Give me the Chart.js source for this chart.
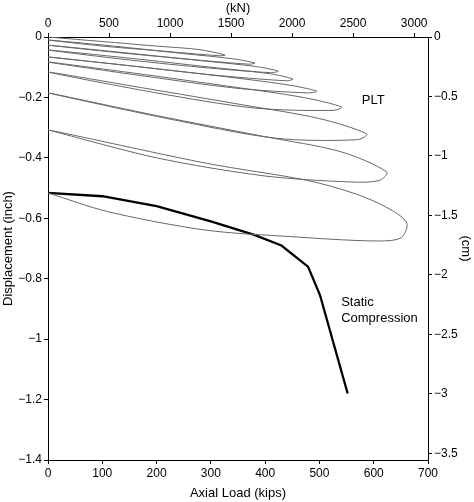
<!DOCTYPE html><html><head><script src="https://cdn.jsdelivr.net/npm/chart.js@4"></script>
<style>body{margin:0;background:#fff}#w{width:474px;height:502px}</style></head><body><div id="w"><canvas id="c"></canvas></div>
<script>
const pltLoad=[0,100,200,280,326,315,200,100,0,120,250,340,381,370,250,120,0,130,280,380,424,410,280,130,0,150,300,410,451,440,300,150,0,150,320,440,495,480,350,180,0,160,340,470,541,525,380,200,0,180,360,500,587,570,420,220,0,200,400,540,624,610,560,400,200,0,292,476,568,630,661,650,600,450,290,110,0];
const pltDisp=[0,-0.015,-0.03,-0.042,-0.06,-0.062,-0.045,-0.03,-0.01,-0.03,-0.055,-0.072,-0.086,-0.09,-0.072,-0.05,-0.027,-0.05,-0.078,-0.097,-0.113,-0.118,-0.1,-0.072,-0.043,-0.07,-0.1,-0.122,-0.139,-0.145,-0.125,-0.095,-0.066,-0.095,-0.13,-0.158,-0.179,-0.185,-0.17,-0.13,-0.083,-0.12,-0.165,-0.2,-0.232,-0.243,-0.235,-0.185,-0.116,-0.17,-0.225,-0.27,-0.321,-0.34,-0.335,-0.27,-0.185,-0.26,-0.33,-0.38,-0.447,-0.475,-0.48,-0.46,-0.4,-0.308,-0.418,-0.474,-0.52,-0.57,-0.616,-0.665,-0.675,-0.661,-0.639,-0.578,-0.516];
const staticLoad=[0,100,200,300,380,430,479,501,552];
const staticDisp=[-0.516,-0.527,-0.56,-0.61,-0.655,-0.69,-0.76,-0.854,-1.18];
const kipTicks=[0,100,200,300,400,500,600,700];
const inchTicks=[0,-0.2,-0.4,-0.6,-0.8,-1,-1.2,-1.4];
const kNTicks=[0,500,1000,1500,2000,2500,3000];
const cmTicks=[0,-0.5,-1,-1.5,-2,-2.5,-3,-3.5];
const F='"Liberation Sans", Arial, sans-serif';
const labels={id:'lb',afterDatasetsDraw(ch){const c=ch.ctx,x=ch.scales.x,y=ch.scales.y;c.save();c.fillStyle='#000';c.font='13px '+F;c.textBaseline='middle';
c.fillText('PLT',x.getPixelForValue(578),y.getPixelForValue(-0.21));
c.fillText('Static',x.getPixelForValue(540),y.getPixelForValue(-0.877));
c.fillText('Compression',x.getPixelForValue(540),y.getPixelForValue(-0.93));c.restore();}};
const ax=(pos,min,max,ticks,title,size)=>({type:'linear',position:pos,min,max,
 afterBuildTicks:s=>{s.ticks=ticks.map(v=>({value:v}))},
 afterFit:s=>{if(pos==='left'||pos==='right')s.width=size;else s.height=size;},
 ticks:{color:'#000',font:{family:F,size:12},padding:2,callback:v=>String(v).replace('-','\u2212')},
 grid:{drawOnChartArea:false,tickLength:4,color:'#000'},border:{color:'#000',width:1},
 title:{display:true,text:title,color:'#000',font:{family:F,size:13},padding:1}});
new Chart(document.getElementById('c'),{type:'scatter',
data:{datasets:[
{data:pltLoad.map((v,i)=>({x:v,y:pltDisp[i]})),showLine:true,borderColor:'#666',borderWidth:1,pointRadius:0,tension:0.3,xAxisID:'x',yAxisID:'y'},
{data:staticLoad.map((v,i)=>({x:v,y:staticDisp[i]})),showLine:true,borderColor:'#000',borderWidth:2.3,pointRadius:0,xAxisID:'x',yAxisID:'y'}]},
options:{animation:false,responsive:true,maintainAspectRatio:false,layout:{padding:0},
plugins:{legend:{display:false},tooltip:{enabled:false}},
scales:{
x:ax('bottom',0,700,kipTicks,'Axial Load (kips)',42),
y:ax('left',-1.4,0,inchTicks,'Displacement (inch)',48),
x2:ax('top',0,3113.6,kNTicks,'(kN)',37),
y2:ax('right',-3.556,0,cmTicks,'(cm)',46)}},
plugins:[labels]});
</script></body></html>
